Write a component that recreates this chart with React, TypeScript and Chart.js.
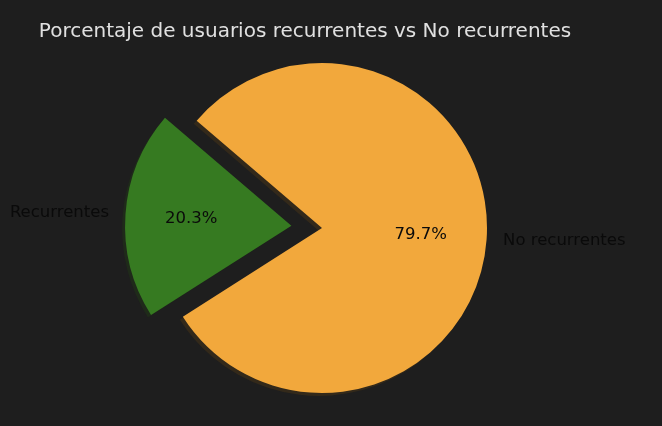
import React, { useEffect, useRef } from "react";
import { Chart, registerables, Plugin } from "chart.js";

Chart.register(...registerables);

// Data
const labels = ["Recurrentes", "No recurrentes"];
const values = [20.3, 79.7];
const colors = ["#367a21", "#f2a83c"];
const shadowColors = ["#1f2a1a", "#33291a"];
const explode = [32, 0]; // pixels the wedge is pulled out

const TITLE = "Porcentaje de usuarios recurrentes vs No recurrentes";
const FONT = "'DejaVu Sans', sans-serif";

// Chart.js arc moves by offset/4 * (2 - sin(circumference)), so turn px into its offset value
const total = values.reduce((s, v) => s + v, 0);
const arcOffsets = values.map((v, i) => {
  const circ = (v / total) * Math.PI * 2;
  const fix = 1 - Math.sin(Math.min(Math.PI, circ));
  return (explode[i] * 4) / (1 + fix);
});

// shifted, darkened copy of each wedge under the real one (like matplotlib shadow=True)
const shadowPlugin: Plugin<"pie"> = {
  id: "pieShadow",
  beforeDatasetDraw(chart) {
    const ctx = chart.ctx;
    const arcs = chart.getDatasetMeta(0).data as any[];
    ctx.save();
    arcs.forEach((arc, i) => {
      const { x, y, startAngle, endAngle, outerRadius } = arc.getProps(
        ["x", "y", "startAngle", "endAngle", "outerRadius"],
        true
      );
      const mid = (startAngle + endAngle) / 2;
      const cx = x + Math.cos(mid) * explode[i] - 3;
      const cy = y + Math.sin(mid) * explode[i] + 3;
      ctx.beginPath();
      ctx.moveTo(cx, cy);
      ctx.arc(cx, cy, outerRadius, startAngle, endAngle);
      ctx.closePath();
      ctx.fillStyle = shadowColors[i];
      ctx.fill();
    });
    ctx.restore();
  },
};

// outer labels (distance 1.1) and percentages (distance 0.6)
const labelPlugin: Plugin<"pie"> = {
  id: "pieLabels",
  afterDatasetsDraw(chart) {
    const ctx = chart.ctx;
    const arcs = chart.getDatasetMeta(0).data as any[];
    ctx.save();
    ctx.fillStyle = "#0a0a0a";
    ctx.textBaseline = "middle";
    ctx.font = `16.5px ${FONT}`;
    arcs.forEach((arc, i) => {
      const { x, y, startAngle, endAngle, outerRadius } = arc.getProps(
        ["x", "y", "startAngle", "endAngle", "outerRadius"],
        true
      );
      const mid = (startAngle + endAngle) / 2;
      const cx = x + Math.cos(mid) * explode[i];
      const cy = y + Math.sin(mid) * explode[i];
      const lx = cx + Math.cos(mid) * outerRadius * 1.1;
      const ly = cy + Math.sin(mid) * outerRadius * 1.1;
      ctx.textAlign = Math.cos(mid) < 0 ? "right" : "left";
      ctx.fillText(labels[i], lx, ly);
      const px = cx + Math.cos(mid) * outerRadius * 0.6;
      const py = cy + Math.sin(mid) * outerRadius * 0.6;
      ctx.textAlign = "center";
      ctx.fillText(`${values[i].toFixed(1)}%`, px, py);
    });
    ctx.restore();
  },
};

const PieChart: React.FC = () => {
  const chartRef = useRef<HTMLCanvasElement>(null);
  const chartInstance = useRef<Chart<"pie"> | null>(null);

  useEffect(() => {
    if (!chartRef.current) return;
    if (chartInstance.current) chartInstance.current.destroy();
    const ctx = chartRef.current.getContext("2d");
    if (!ctx) return;

    chartInstance.current = new Chart(ctx, {
      type: "pie",
      data: {
        labels,
        datasets: [
          {
            data: values,
            backgroundColor: colors,
            borderWidth: 0,
            offset: arcOffsets,
            hoverOffset: 0,
          },
        ],
      },
      options: {
        animation: false,
        responsive: false,
        rotation: 237.5,
        radius: 165,
        layout: { padding: { left: 0, right: 18, top: 30, bottom: 0 } },
        plugins: {
          legend: { display: false },
          tooltip: { enabled: false },
        },
      },
      plugins: [shadowPlugin, labelPlugin],
    });

    return () => {
      if (chartInstance.current) {
        chartInstance.current.destroy();
        chartInstance.current = null;
      }
    };
  }, []);

  return (
    <div style={{ position: "relative", width: 662, height: 426, background: "#1e1e1e" }}>
      <canvas ref={chartRef} width={662} height={426}></canvas>
      <div
        style={{
          position: "absolute",
          left: 0,
          top: 18,
          width: 610,
          textAlign: "center",
          fontFamily: FONT,
          fontSize: 20,
          color: "#e0e0e0",
          whiteSpace: "nowrap",
        }}
      >
        {TITLE}
      </div>
    </div>
  );
};

export default function App() {
  useEffect(() => {
    document.body.style.margin = "0";
    document.body.style.background = "#1e1e1e";
  }, []);
  return <PieChart />;
}
